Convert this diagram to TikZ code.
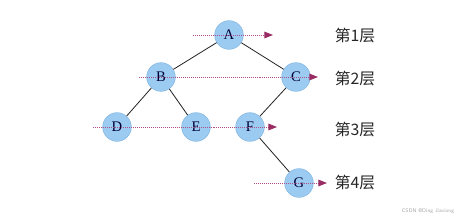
\documentclass[tikz,border=0pt]{standalone}
\usepackage{fontspec}
\setmainfont{Liberation Serif}
\newfontfamily\cjk{Noto Sans CJK SC}
\usetikzlibrary{arrows.meta}
\definecolor{nodefill}{HTML}{9CCBF2}
\definecolor{nodeline}{HTML}{7FB3E0}
\definecolor{dotline}{HTML}{B0508A}
\definecolor{tipfill}{HTML}{9A2C64}
\tikzset{
  every node/.style={font=\fontsize{12.5}{14}\selectfont},
  tnode/.style = {circle, fill=nodefill, draw=nodeline, line width=0.4pt,
                  minimum size=0.86cm, inner sep=0pt, text=black!80!blue},
  edge/.style  = {draw=black!85, line width=0.7pt},
  lvl/.style   = {dotline, dash pattern=on 0.8pt off 0.9pt, line width=0.8pt,
                  -{Triangle[length=2.6mm,width=2mm,color=tipfill]}},
  lvltext/.style = {font=\cjk\fontsize{13.5}{15}\selectfont, text=black!85},
}

\begin{document}
\begin{tikzpicture}[x=0.03cm, y=-0.03cm]
  \useasboundingbox (0,0) rectangle (474,220);

  % tree nodes
  \node[tnode] (A) at (229,35)  {A};
  \node[tnode] (B) at (161,77)  {B};
  \node[tnode] (C) at (296,77)  {C};
  \node[tnode] (D) at (117,127) {D};
  \node[tnode] (E) at (196,127) {E};
  \node[tnode] (F) at (250,127) {F};
  \node[tnode] (G) at (299,183) {G};

  \draw[edge] (A) -- (B);
  \draw[edge] (A) -- (C);
  \draw[edge] (B) -- (D);
  \draw[edge] (B) -- (E);
  \draw[edge] (C) -- (F);
  \draw[edge] (F) -- (G);

  % level markers
  \coordinate (s1) at (193,35);  \coordinate (e1) at (273,35);
  \coordinate (s2) at (139,77);  \coordinate (e2) at (318,77);
  \coordinate (s3) at (93,127);  \coordinate (e3) at (277,127);
  \coordinate (s4) at (254,183); \coordinate (e4) at (327,183);
  \draw[lvl] (s1) -- (e1);
  \draw[lvl] (s2) -- (e2);
  \draw[lvl] (s3) -- (e3);
  \draw[lvl] (s4) -- (e4);

  \node[lvltext] (l1) at (355,36)  {第1层};
  \node[lvltext] (l2) at (355,79)  {第2层};
  \node[lvltext] (l3) at (355,130) {第3层};
  \node[lvltext] (l4) at (355,183) {第4层};

  \node[font=\sffamily\fontsize{4.5}{5}\selectfont, text=black!35] (wm) at (428,211) {CSDN @Ding Jiaxiong};
\end{tikzpicture}
\end{document}
